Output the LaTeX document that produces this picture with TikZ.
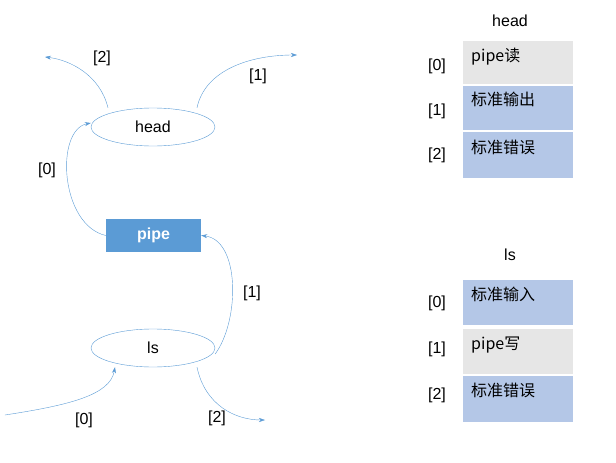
\documentclass[tikz,border=0pt]{standalone}
\usepackage{fontspec}
\setmainfont{Liberation Sans}
\newfontfamily\cjk{Noto Sans CJK SC}
\usetikzlibrary{arrows.meta,shapes.geometric}
\definecolor{ln}{HTML}{5B9BD5}
\definecolor{cg}{HTML}{E6E6E6}
\definecolor{cb}{HTML}{B4C7E7}
\tikzset{x=1pt,y=-1pt,
 ell/.style={draw=ln,ellipse,minimum width=124pt,minimum height=38pt,font=\fontsize{16}{18}\selectfont},
 conn/.style={draw=ln,thin,-{Stealth[length=6pt,width=4pt]}},
 lab/.style={font=\fontsize{16}{18}\selectfont},
 cellb/.style={fill=cb,minimum width=110pt,anchor=north west,inner sep=0},
 cellg/.style={fill=cg,minimum width=110pt,anchor=north west,inner sep=0},
 ctext/.style={anchor=north west,font=\cjk\fontsize{16}{18}\selectfont,inner sep=0}}
\begin{document}
\begin{tikzpicture}
\useasboundingbox (0,0) rectangle (616,463);
\node[ell] (head) at (153,127) {head};
\node[ell] (ls) at (153,348) {ls};
\node[fill=ln,text=white,font=\bfseries\fontsize{16}{18}\selectfont,minimum width=95pt,minimum height=33pt,inner sep=0] (pipe) at (153.5,235.5) {pipe};
\coordinate (e2) at (45,57);
\coordinate (e1) at (297,55);
\coordinate (s0) at (5,415);
\coordinate (e22) at (265,420);
\draw[conn] ([xshift=-45pt]head.north) .. controls (100,75) and (70,60) .. (e2);
\draw[conn] ([xshift=44pt]head.north) .. controls (205,70) and (250,55) .. (e1);
\draw[conn] (pipe.west) .. controls (60,225) and (55,130) .. ([yshift=4pt]head.west);
\draw[conn] ([yshift=-6pt]ls.east) .. controls (240,320) and (240,240) .. (pipe.east);
\draw[conn] (s0) .. controls (70,405) and (110,395) .. ([xshift=-38pt]ls.south);
\draw[conn] ([xshift=44pt]ls.south) .. controls (205,405) and (235,420) .. (e22);
\node[lab] (l2) at (102,58) {[2]};
\node[lab] (l1) at (258,76) {[1]};
\node[lab] (l0) at (47,170) {[0]};
\node[lab] (l1b) at (252,293) {[1]};
\node[lab] (l0b) at (84,420) {[0]};
\node[lab] (l2b) at (217,418) {[2]};
% head table
\node[lab] (ht) at (510,21) {head};
\node[cellg,minimum height=43pt] (h0) at (463,41) {};
\node[cellb,minimum height=44pt] (h1) at (463,86) {};
\node[cellb,minimum height=46pt] (h2) at (463,132) {};
\node[ctext] at (471,48) {pipe读};
\node[ctext] at (471,92) {标准输出};
\node[ctext] at (471,140) {标准错误};
\node[lab] at (437,66) {[0]};
\node[lab] at (437,111) {[1]};
\node[lab] at (437,155) {[2]};
% ls table
\node[lab] (lt) at (510,255) {ls};
\node[cellb,minimum height=45pt] (s0c) at (463,280) {};
\node[cellg,minimum height=45pt] (s1c) at (463,329) {};
\node[cellb,minimum height=46pt] (s2c) at (463,376) {};
\node[ctext] at (471,287) {标准输入};
\node[ctext] at (471,337) {pipe写};
\node[ctext] at (471,383) {标准错误};
\node[lab] at (437,303) {[0]};
\node[lab] at (437,349) {[1]};
\node[lab] at (437,395) {[2]};
\end{tikzpicture}
\end{document}
